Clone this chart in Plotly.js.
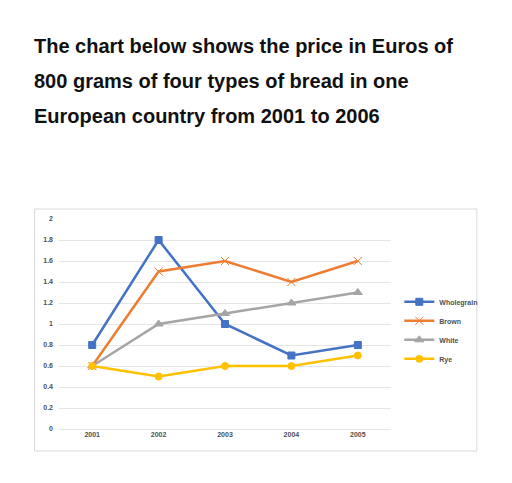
<!DOCTYPE html>
<html>
<head>
<meta charset="utf-8">
<script src="https://cdn.plot.ly/plotly-3.0.1.min.js"></script>
<style>
  html, body { margin: 0; padding: 0; background: #fff; }
  #chart { width: 512px; height: 483px; }
</style>
</head>
<body>
<div id="chart"></div>
<script>
// years on the x axis
var years = ['2001', '2002', '2003', '2004', '2005'];

// price in euros per 800 g
var wholegrain = [0.8, 1.8, 1.0, 0.7, 0.8];
var brown = [0.6, 1.5, 1.6, 1.4, 1.6];
var white = [0.6, 1.0, 1.1, 1.2, 1.3];
var rye = [0.6, 0.5, 0.6, 0.6, 0.7];

var seriesNames = ['Wholegrain', 'Brown', 'White', 'Rye'];
var titleLines = [
    'The chart below shows the price in Euros of',
    '800 grams of four types of bread in one',
    'European country from 2001 to 2006'
];

var yTicks = [0, 0.2, 0.4, 0.6, 0.8, 1, 1.2, 1.4, 1.6, 1.8, 2];
var yTickText = ['0', '0.2', '0.4', '0.6', '0.8', '1', '1.2', '1.4', '1.6', '1.8', '2'];

function makeTrace(name, values, color, symbol, size) {
    return {
        x: years,
        y: values,
        name: name,
        type: 'scatter',
        mode: 'lines+markers',
        line: { color: color, width: 2.5 },
        marker: { color: color, symbol: symbol, size: size,
                  line: { color: color, width: 1 } }
    };
}

var data = [
    makeTrace(seriesNames[0], wholegrain, '#4472C4', 'square', 7),
    makeTrace(seriesNames[1], brown, '#ED7D31', 'x-thin', 8),
    makeTrace(seriesNames[2], white, '#A5A5A5', 'triangle-up', 8),
    makeTrace(seriesNames[3], rye, '#FFC000', 'circle', 7)
];

var titleAnnotations = titleLines.map(function (t, i) {
    return {
        text: '<b>' + t + '</b>',
        xref: 'paper', yref: 'paper',
        x: (31 - 58.5) / 332.5, y: (429 - 46 - i * 35) / 210,
        xanchor: 'left', yanchor: 'middle',
        showarrow: false,
        font: { family: 'Liberation Sans, Arial, sans-serif', size: 20, color: '#111' }
    };
});

var layout = {
    width: 512,
    height: 483,
    margin: { l: 58.5, r: 121, t: 219, b: 54 },
    paper_bgcolor: '#fff',
    plot_bgcolor: '#fff',
    showlegend: true,
    font: { family: 'Liberation Sans, Arial, sans-serif', color: '#595959' },
    xaxis: {
        type: 'category',
        range: [-0.5, 4.5],
        showgrid: false,
        showline: false,
        zeroline: false,
        ticks: '',
        tickfont: { size: 7, color: '#505050', weight: 'bold' },
        fixedrange: true
    },
    yaxis: {
        range: [0, 2],
        tickvals: yTicks,
        ticktext: yTickText,
        showgrid: true,
        gridcolor: '#e6e6e6',
        gridwidth: 1,
        zeroline: true,
        zerolinecolor: '#e6e6e6',
        zerolinewidth: 1,
        showline: false,
        ticks: '',
        ticklabelstandoff: 5,
        tickfont: { size: 7, color: '#505050', weight: 'bold' },
        fixedrange: true
    },
    legend: {
        x: 1.025, y: 0.47,
        xanchor: 'left', yanchor: 'middle',
        font: { size: 7, color: '#505050', weight: 'bold' },
        itemwidth: 30,
        tracegroupgap: 0,
        bgcolor: 'rgba(0,0,0,0)'
    },
    shapes: [{
        type: 'rect',
        xref: 'paper', yref: 'paper',
        x0: (34 - 58.5) / 332.5, x1: (477 - 58.5) / 332.5,
        y0: (429 - 451) / 210, y1: (429 - 209) / 210,
        line: { color: '#d9d9d9', width: 1 },
        fillcolor: 'rgba(0,0,0,0)',
        layer: 'below'
    }],
    annotations: titleAnnotations
};

Plotly.newPlot('chart', data, layout, { displayModeBar: false, staticPlot: true });
</script>
</body>
</html>
